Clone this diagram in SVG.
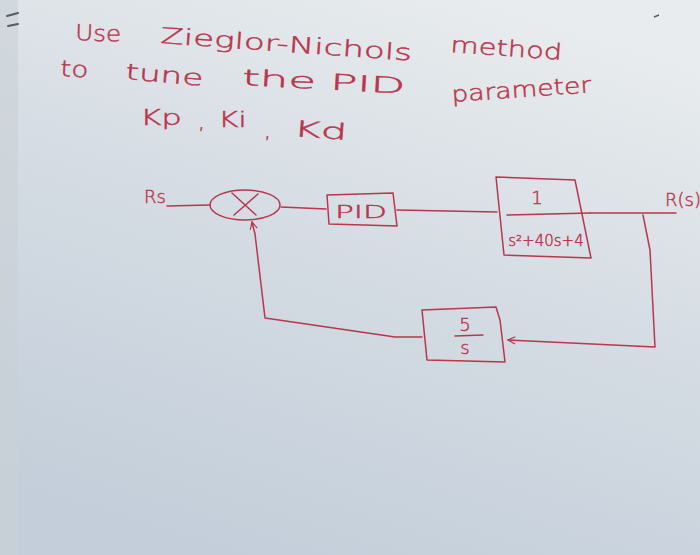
<svg xmlns="http://www.w3.org/2000/svg" width="700" height="555" viewBox="0 0 700 555">
<defs>
<linearGradient id="bg" x1="0.7" y1="0" x2="0.3" y2="1">
<stop offset="0" stop-color="#e8ecee"/>
<stop offset="0.45" stop-color="#d5dce3"/>
<stop offset="1" stop-color="#c3ceda"/>
</linearGradient>
<marker id="arr" viewBox="0 0 10 10" refX="9" refY="5" markerWidth="9" markerHeight="9" orient="auto-start-reverse" markerUnits="userSpaceOnUse">
<path d="M1,1 L9,5 L1,9" fill="none" stroke="#b9364b" stroke-width="1.3"/>
</marker>
<style>
.ink{fill:none;stroke:#b9364b;stroke-width:1.5;stroke-linecap:round;stroke-linejoin:round}
.t{font-family:"DejaVu Sans","Liberation Sans",sans-serif;fill:#b9364b;stroke:#b9364b;stroke-width:0.45;font-weight:200}
.big{font-size:22px}
.lbl{font-size:18px}
</style>
</defs>
<rect width="700" height="555" fill="url(#bg)"/>
<rect x="0" y="0" width="18" height="555" fill="#c9d0d6" opacity="0.6"/>
<path d="M7,16 L18,13 M8,26 L18,24" stroke="#555b62" stroke-width="2" stroke-linecap="round"/>
<path d="M654,17 L659,15" stroke="#555b62" stroke-width="1.5"/>

<g id="question">
<text class="t big" x="75" y="40" textLength="46" lengthAdjust="spacingAndGlyphs" transform="rotate(2 75 40)">Use</text>
<text class="t big" x="160" y="43" textLength="252" lengthAdjust="spacingAndGlyphs" transform="rotate(4 160 43)">Zieglor-Nichols</text>
<text class="t big" x="450" y="52" textLength="112" lengthAdjust="spacingAndGlyphs" transform="rotate(4 450 52)">method</text>
<text class="t big" x="60" y="76" textLength="28" lengthAdjust="spacingAndGlyphs" transform="rotate(3 60 76)">to</text>
<text class="t big" x="125" y="79" textLength="78" lengthAdjust="spacingAndGlyphs" transform="rotate(5 125 79)">tune</text>
<text class="t big" x="242" y="85" textLength="163" lengthAdjust="spacingAndGlyphs" transform="rotate(3 242 85)">the PID</text>
<text class="t big" x="452" y="102" textLength="140" lengthAdjust="spacingAndGlyphs" transform="rotate(-4 452 102)">parameter</text>
<text class="t big" x="140" y="125" textLength="42" lengthAdjust="spacingAndGlyphs">Kp</text>
<text class="t big" x="198" y="129">,</text>
<text class="t big" x="218" y="127" textLength="29" lengthAdjust="spacingAndGlyphs">Ki</text>
<text class="t big" x="264" y="138">,</text>
<text class="t big" x="293" y="136" textLength="54" lengthAdjust="spacingAndGlyphs" transform="rotate(4 293 136)">Kd</text>
</g>

<g id="connectors">
<path class="ink" d="M167,206 L210,205"/>
<path class="ink" d="M281,207 L326,209"/>
<path class="ink" d="M397,210 L497,212"/>
<path class="ink" d="M590,213 L676,213"/>
<path class="ink" d="M643,215 L650,250 L655,347 L508,340" marker-end="url(#arr)"/>
<path class="ink" d="M422,337 L395,337 L265,318 L255,234 L252,222" marker-end="url(#arr)"/>
</g>

<g id="input">
<text class="t lbl" x="144" y="203" font-size="20">Rs</text>
</g>

<g id="sum">
<ellipse class="ink" cx="245" cy="205" rx="35" ry="15"/>
<path class="ink" d="M232,193 L256,215 M258,194 L234,215"/>
</g>

<g id="pid">
<path class="ink" d="M327,195 L393,193 L397,226 L329,224 Z"/>
<text class="t lbl" x="335" y="218" textLength="52" lengthAdjust="spacingAndGlyphs">PID</text>
</g>

<g id="plant">
<path class="ink" d="M496,177 L575,180 L591,258 L504,255 Z"/>
<path class="ink" d="M507,215 L590,213"/>
<text class="t lbl" x="537" y="204" text-anchor="middle">1</text>
<text class="t" x="546" y="246" font-size="15" text-anchor="middle">s²+40s+4</text>
</g>

<g id="output">
<text class="t lbl" x="665" y="206">R(s)</text>
</g>

<g id="feedback">
<path class="ink" d="M422,310 L496,307 L500,320 L505,362 L427,360 Z"/>
<path class="ink" d="M455,336 L483,335"/>
<text class="t lbl" x="465" y="331" text-anchor="middle">5</text>
<text class="t lbl" x="465" y="354" text-anchor="middle">s</text>
</g>
</svg>
